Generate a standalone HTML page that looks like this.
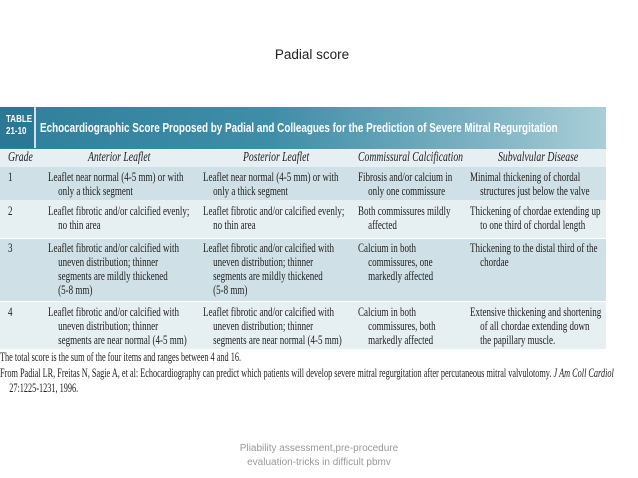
<!DOCTYPE html>
<html><head><meta charset="utf-8"><style>
body{margin:0;width:638px;height:478px;background:#fff;position:relative;overflow:hidden;font-family:"Liberation Sans",sans-serif}
.a{position:absolute}
.t{position:absolute;font-family:"Liberation Serif",serif;font-size:12.5px;line-height:14px;color:#222;transform:scaleX(0.72);transform-origin:0 0;white-space:nowrap}
.i{font-style:italic}
.ind{padding-left:14px}
</style></head><body>
<div class="a" style="left:0;width:624px;top:47px;text-align:center;font-size:13.5px;color:#222">Padial score</div>

<div class="a" style="left:0;top:107px;width:606px;height:242px">
 <div class="a" style="left:0;top:0;width:606px;height:42px;background:linear-gradient(90deg,#2f7f9c 0%,#3f8ea8 45%,#7fb3c3 80%,#a9cfd8 100%)"></div>
 <div class="a" style="left:0;top:0;width:34px;height:41px;background:#2a7896;border-right:2px solid #cfe4ea"></div>
 <div class="a" style="left:6px;top:7px;color:#fff;font-size:10px;font-weight:bold;line-height:12px;transform:scaleX(.8);transform-origin:0 0">TABLE<br>21-10</div>
 <div class="a" style="left:40px;top:13px;color:#fff;font-size:13px;font-weight:bold;white-space:nowrap;transform:scaleX(.76);transform-origin:0 0">Echocardiographic Score Proposed by Padial and Colleagues for the Prediction of Severe Mitral Regurgitation</div>
 <div class="a" style="left:0;top:42px;width:606px;height:18px;background:#e6eff2"></div>
 <div class="a" style="left:0;top:60px;width:606px;height:33px;background:#cfe0e6"></div>
 <div class="a" style="left:0;top:93px;width:606px;height:38px;background:#e6eff2"></div>
 <div class="a" style="left:0;top:132px;width:606px;height:62px;background:#cfe0e6"></div>
 <div class="a" style="left:0;top:195px;width:606px;height:47px;background:#e6eff2"></div>
</div>

<div class="t i" style="left:8px;top:150px;font-size:13.5px">Grade</div>
<div class="t i" style="left:88px;top:150px;font-size:13.5px">Anterior Leaflet</div>
<div class="t i" style="left:243px;top:150px;font-size:13.5px">Posterior Leaflet</div>
<div class="t i" style="left:358px;top:150px;font-size:13.5px">Commissural Calcification</div>
<div class="t i" style="left:498px;top:150px;font-size:13.5px">Subvalvular Disease</div>

<div class="t" style="left:8px;top:170px">1</div>
<div class="t" style="left:48px;top:170px">Leaflet near normal (4-5 mm) or with<br><span class="ind">only a thick segment</span></div>
<div class="t" style="left:203px;top:170px">Leaflet near normal (4-5 mm) or with<br><span class="ind">only a thick segment</span></div>
<div class="t" style="left:358px;top:170px">Fibrosis and/or calcium in<br><span class="ind">only one commissure</span></div>
<div class="t" style="left:470px;top:170px">Minimal thickening of chordal<br><span class="ind">structures just below the valve</span></div>

<div class="t" style="left:8px;top:204px">2</div>
<div class="t" style="left:48px;top:204px">Leaflet fibrotic and/or calcified evenly;<br><span class="ind">no thin area</span></div>
<div class="t" style="left:203px;top:204px">Leaflet fibrotic and/or calcified evenly;<br><span class="ind">no thin area</span></div>
<div class="t" style="left:358px;top:204px">Both commissures mildly<br><span class="ind">affected</span></div>
<div class="t" style="left:470px;top:204px">Thickening of chordae extending up<br><span class="ind">to one third of chordal length</span></div>

<div class="t" style="left:8px;top:241px">3</div>
<div class="t" style="left:48px;top:241px">Leaflet fibrotic and/or calcified with<br><span class="ind">uneven distribution; thinner</span><br><span class="ind">segments are mildly thickened</span><br><span class="ind">(5-8 mm)</span></div>
<div class="t" style="left:203px;top:241px">Leaflet fibrotic and/or calcified with<br><span class="ind">uneven distribution; thinner</span><br><span class="ind">segments are mildly thickened</span><br><span class="ind">(5-8 mm)</span></div>
<div class="t" style="left:358px;top:241px">Calcium in both<br><span class="ind">commissures, one</span><br><span class="ind">markedly affected</span></div>
<div class="t" style="left:470px;top:241px">Thickening to the distal third of the<br><span class="ind">chordae</span></div>

<div class="t" style="left:8px;top:305px">4</div>
<div class="t" style="left:48px;top:305px">Leaflet fibrotic and/or calcified with<br><span class="ind">uneven distribution; thinner</span><br><span class="ind">segments are near normal (4-5 mm)</span></div>
<div class="t" style="left:203px;top:305px">Leaflet fibrotic and/or calcified with<br><span class="ind">uneven distribution; thinner</span><br><span class="ind">segments are near normal (4-5 mm)</span></div>
<div class="t" style="left:358px;top:305px">Calcium in both<br><span class="ind">commissures, both</span><br><span class="ind">markedly affected</span></div>
<div class="t" style="left:470px;top:305px">Extensive thickening and shortening<br><span class="ind">of all chordae extending down</span><br><span class="ind">the papillary muscle.</span></div>

<div class="t" style="left:0;top:350px;line-height:15.5px;transform:scaleX(0.66)">The total score is the sum of the four items and ranges between 4 and 16.<br>From Padial LR, Freitas N, Sagie A, et al: Echocardiography can predict which patients will develop severe mitral regurgitation after percutaneous mitral valvulotomy. <i>J Am Coll Cardiol</i><br><span class="ind">27:1225-1231, 1996.</span></div>

<div class="a" style="left:0;width:638px;top:442px;text-align:center;font-size:10px;line-height:14px;color:#999">Pliability assessment,pre-procedure<br>evaluation-tricks in difficult pbmv</div>
</body></html>
